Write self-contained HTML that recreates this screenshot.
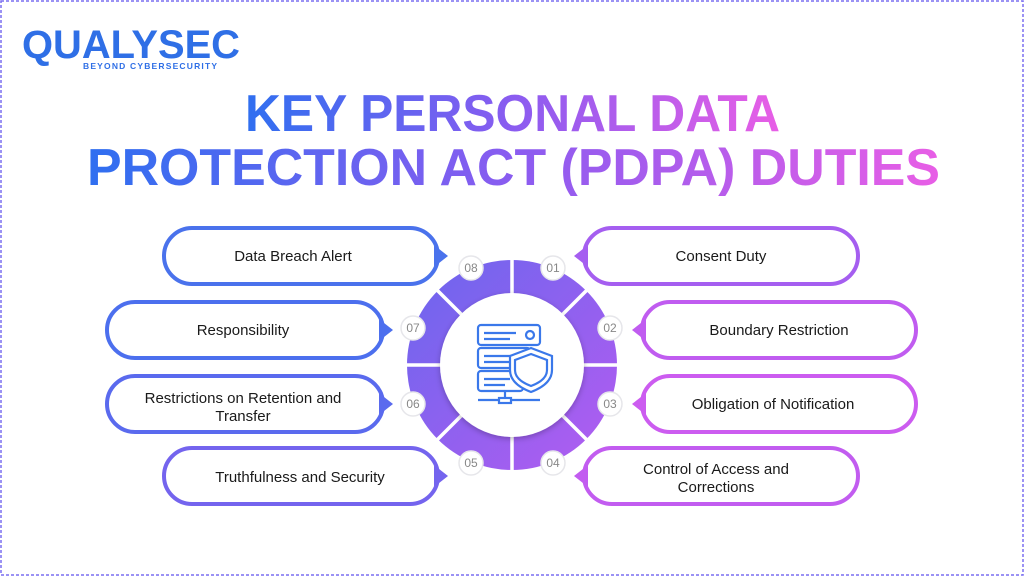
<!DOCTYPE html>
<html><head><meta charset="utf-8"><style>
html,body{margin:0;padding:0;background:#fff}
svg{display:block}
text{font-family:"Liberation Sans",sans-serif}
</style></head><body>
<svg width="1024" height="576" viewBox="0 0 1024 576" xmlns="http://www.w3.org/2000/svg">
<defs>
<linearGradient id="tg" x1="0" x2="1" y1="0" y2="0">
<stop offset="0" stop-color="#2f6ff0"/><stop offset="0.5" stop-color="#8a5cf0"/><stop offset="1" stop-color="#e85ee6"/>
</linearGradient>
<linearGradient id="rg" x1="0" x2="1" y1="0" y2="1">
<stop offset="0" stop-color="#6a66ee"/><stop offset="1" stop-color="#b45cf0"/>
</linearGradient>
<filter id="sh" x="-20%" y="-20%" width="140%" height="140%"><feDropShadow dx="0" dy="2" stdDeviation="3" flood-color="#000" flood-opacity="0.25"/></filter>
</defs>
<rect x="1" y="1" width="1022" height="574" fill="none" stroke="#7a6ff0" stroke-width="1.5" stroke-dasharray="3,2"/>
<!-- logo -->
<text x="22" y="58" font-size="40" font-weight="bold" fill="#2f6fe6" textLength="218" lengthAdjust="spacingAndGlyphs">QUALYSEC</text>
<text x="83" y="69" font-size="8.5" font-weight="bold" fill="#2f6fe6" textLength="134" lengthAdjust="spacing">BEYOND CYBERSECURITY</text>
<!-- title -->
<text x="245" y="131" font-size="52" font-weight="900" fill="url(#tg)" textLength="535" lengthAdjust="spacingAndGlyphs" style="font-weight:bold">KEY PERSONAL DATA</text>
<text x="87" y="185" font-size="52" font-weight="bold" fill="url(#tg)" textLength="853" lengthAdjust="spacingAndGlyphs">PROTECTION ACT (PDPA) DUTIES</text>
<!-- wheel -->
<circle cx="512" cy="365" r="105" fill="url(#rg)"/>
<g stroke="#fff" stroke-width="3.5">
<line x1="512" y1="255" x2="512" y2="475"/>
<line x1="402" y1="365" x2="622" y2="365"/>
<line x1="434" y1="287" x2="590" y2="443"/>
<line x1="590" y1="287" x2="434" y2="443"/>
</g>
<circle cx="512" cy="365" r="72" fill="#fff" filter="url(#sh)"/>
<!-- icon -->
<g fill="none" stroke="#3a78ea" stroke-width="2.2">
<rect x="478" y="325" width="62" height="20" rx="3"/>
<rect x="478" y="348" width="52" height="20" rx="3"/>
<rect x="478" y="371" width="45" height="20" rx="3"/>
<circle cx="530" cy="335" r="4"/>
<line x1="484" y1="333" x2="516" y2="333"/><line x1="484" y1="339" x2="510" y2="339"/>
<line x1="484" y1="356" x2="516" y2="356"/><line x1="484" y1="362" x2="510" y2="362"/>
<line x1="484" y1="379" x2="510" y2="379"/><line x1="484" y1="385" x2="505" y2="385"/>
<line x1="505" y1="391" x2="505" y2="398"/>
<rect x="499" y="398" width="12" height="5"/>
<line x1="478" y1="400" x2="499" y2="400"/><line x1="511" y1="400" x2="540" y2="400"/>
<path d="M531 348 L552 356 L552 370 Q552 384 531 392 Q510 384 510 370 L510 356 Z" fill="#fff"/>
<path d="M531 354 L547 360 L547 370 Q547 380 531 386 Q515 380 515 370 L515 360 Z"/>
</g>
<!-- badges -->
<g fill="#fff" stroke="#e6e6ea" stroke-width="1.5">
<circle cx="471" cy="268" r="12"/><circle cx="553" cy="268" r="12"/>
<circle cx="413" cy="328" r="12"/><circle cx="610" cy="328" r="12"/>
<circle cx="413" cy="404" r="12"/><circle cx="610" cy="404" r="12"/>
<circle cx="471" cy="463" r="12"/><circle cx="553" cy="463" r="12"/>
</g>
<g font-size="12" fill="#888" text-anchor="middle">
<text x="471" y="272">08</text><text x="553" y="272">01</text>
<text x="413" y="332">07</text><text x="610" y="332">02</text>
<text x="413" y="408">06</text><text x="610" y="408">03</text>
<text x="471" y="467">05</text><text x="553" y="467">04</text>
</g>
<!-- left pills -->
<g fill="#fff" stroke-width="4">
<rect x="164" y="228" width="274" height="56" rx="28" stroke="#4a72ec"/>
<rect x="107" y="302" width="276" height="56" rx="28" stroke="#4c6fee"/>
<rect x="107" y="376" width="276" height="56" rx="28" stroke="#5a6aee"/>
<rect x="164" y="448" width="274" height="56" rx="28" stroke="#7464ee"/>
<rect x="584" y="228" width="274" height="56" rx="28" stroke="#a55ef0"/>
<rect x="642" y="302" width="274" height="56" rx="28" stroke="#c05cf0"/>
<rect x="642" y="376" width="274" height="56" rx="28" stroke="#cc5cf0"/>
<rect x="584" y="448" width="274" height="56" rx="28" stroke="#c25cf0"/>
</g>
<polygon points="434,245 448,256 434,267" fill="#4a72ec"/>
<polygon points="379,319 393,330 379,341" fill="#4c6fee"/>
<polygon points="379,393 393,404 379,415" fill="#5a6aee"/>
<polygon points="434,465 448,476 434,487" fill="#7464ee"/>
<polygon points="588,245 574,256 588,267" fill="#a55ef0"/>
<polygon points="646,319 632,330 646,341" fill="#c05cf0"/>
<polygon points="646,393 632,404 646,415" fill="#cc5cf0"/>
<polygon points="588,465 574,476 588,487" fill="#c25cf0"/>
<g font-size="15" fill="#1a1a1a" text-anchor="middle">
<text x="293" y="261">Data Breach Alert</text>
<text x="243" y="335">Responsibility</text>
<text x="243" y="403">Restrictions on Retention and</text>
<text x="243" y="421">Transfer</text>
<text x="300" y="482">Truthfulness and Security</text>
<text x="721" y="261">Consent Duty</text>
<text x="779" y="335">Boundary Restriction</text>
<text x="773" y="409">Obligation of Notification</text>
<text x="716" y="474">Control of Access and</text>
<text x="716" y="492">Corrections</text>
</g>
</svg>
</body></html>
